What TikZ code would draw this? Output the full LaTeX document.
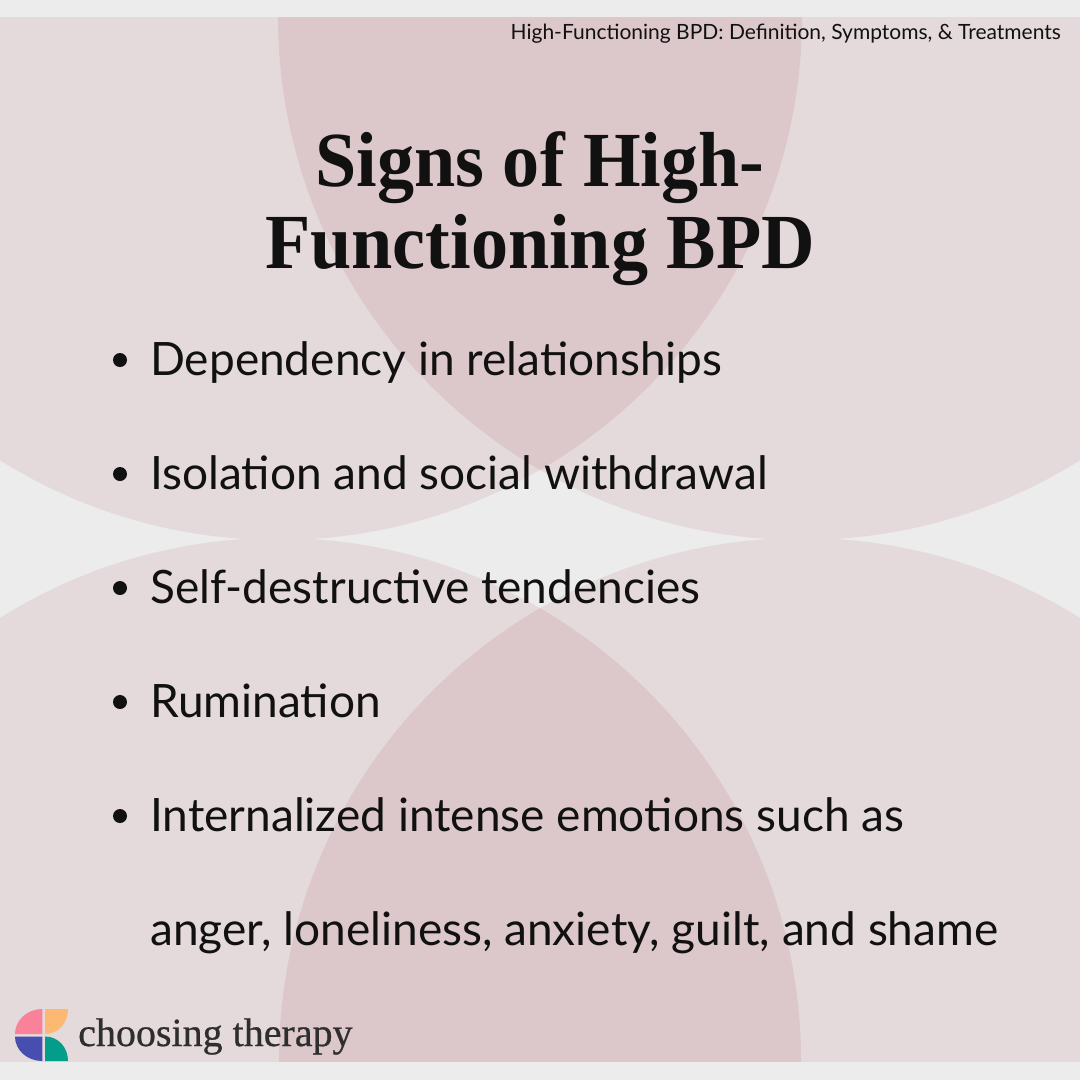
\documentclass[tikz,border=0pt]{standalone}
\usepackage{fontspec}
\setmainfont{Lato}
\newfontfamily\titlefont{Liberation Serif}[FakeStretch=0.95]
\newfontfamily\logofont{Liberation Serif}[FakeBold=0.6]
\definecolor{bgc}{HTML}{ECECEC}
\definecolor{pale}{HTML}{E4D9DB}
\definecolor{deep}{HTML}{DCC7CA}
\definecolor{inkc}{HTML}{111111}
\definecolor{logoink}{HTML}{2E2E2E}
\definecolor{lpink}{HTML}{F9819A}
\definecolor{lorange}{HTML}{FDB972}
\definecolor{lblue}{HTML}{464EB0}
\definecolor{lgreen}{HTML}{029E8A}
\tikzset{
  bodytext/.style={anchor=base west,inner sep=0pt,text=inkc,font=\fontsize{46}{46}\selectfont},
  bulletdot/.style={circle,fill=inkc,minimum size=14pt,inner sep=0pt},
  titletext/.style={anchor=base,inner sep=0pt,text=inkc,font=\titlefont\bfseries\fontsize{78}{78}\selectfont},
}
\begin{document}
\begin{tikzpicture}[x=1pt,y=-1pt]
\useasboundingbox (0,0) rectangle (1080,1080);
\fill[bgc] (0,0) rectangle (1080,1080);
\begin{scope}
  \clip (0,17) rectangle (1080,1061);
  \fill[pale] (278,16) circle[radius=524];
  \fill[pale] (802,16) circle[radius=524];
  \fill[pale] (278,1061) circle[radius=523];
  \fill[pale] (802,1061) circle[radius=523];
  \begin{scope}
    \clip (278,16) circle[radius=524];
    \fill[deep] (802,16) circle[radius=524];
  \end{scope}
  \begin{scope}
    \clip (278,1061) circle[radius=523];
    \fill[deep] (802,1061) circle[radius=523];
  \end{scope}
\end{scope}
\node[anchor=base east,inner sep=0pt,text=inkc,font=\fontsize{21}{21}\selectfont] (src) at (1061,39) {High-Functioning BPD: Definition, Symptoms, \& Treatments};
\node[titletext] (t1) at (540,186) {Signs of High-};
\node[titletext] (t2) at (540,268) {Functioning BPD};
\node[bulletdot] (b1) at (120,360) {};
\node[bulletdot] (b2) at (120,474) {};
\node[bulletdot] (b3) at (120,588) {};
\node[bulletdot] (b4) at (120,702) {};
\node[bulletdot] (b5) at (120,816) {};
\node[bodytext] (l1) at (150,375) {Dependency in relationships};
\node[bodytext] (l2) at (150,489) {Isolation and social withdrawal};
\node[bodytext] (l3) at (150,603) {Self-destructive tendencies};
\node[bodytext] (l4) at (150,717) {Rumination};
\node[bodytext] (l5) at (150,831) {Internalized intense emotions such as};
\node[bodytext] (l6) at (150,945) {anger, loneliness, anxiety, guilt, and shame};
\fill[lpink] (42.3,1034) -- (15,1034) arc[start angle=180,end angle=90,radius=27.3,x radius=27.3,y radius=-25] -- cycle;
\fill[lorange] (45,1009) -- (68,1009) .. controls (68,1023) and (58,1034) .. (45,1034) -- cycle;
\fill[lblue] (42.3,1036.5) -- (15,1036.5) .. controls (15,1050) and (27,1061) .. (42.3,1061) -- cycle;
\fill[lgreen] (45,1036.5) .. controls (58,1036.5) and (68,1047) .. (68,1061) -- (45,1061) -- cycle;
\node[anchor=base west,inner sep=0pt,text=logoink,font=\logofont\fontsize{40}{40}\selectfont] (logo) at (78,1046) {choosing therapy};
\end{tikzpicture}
\end{document}
